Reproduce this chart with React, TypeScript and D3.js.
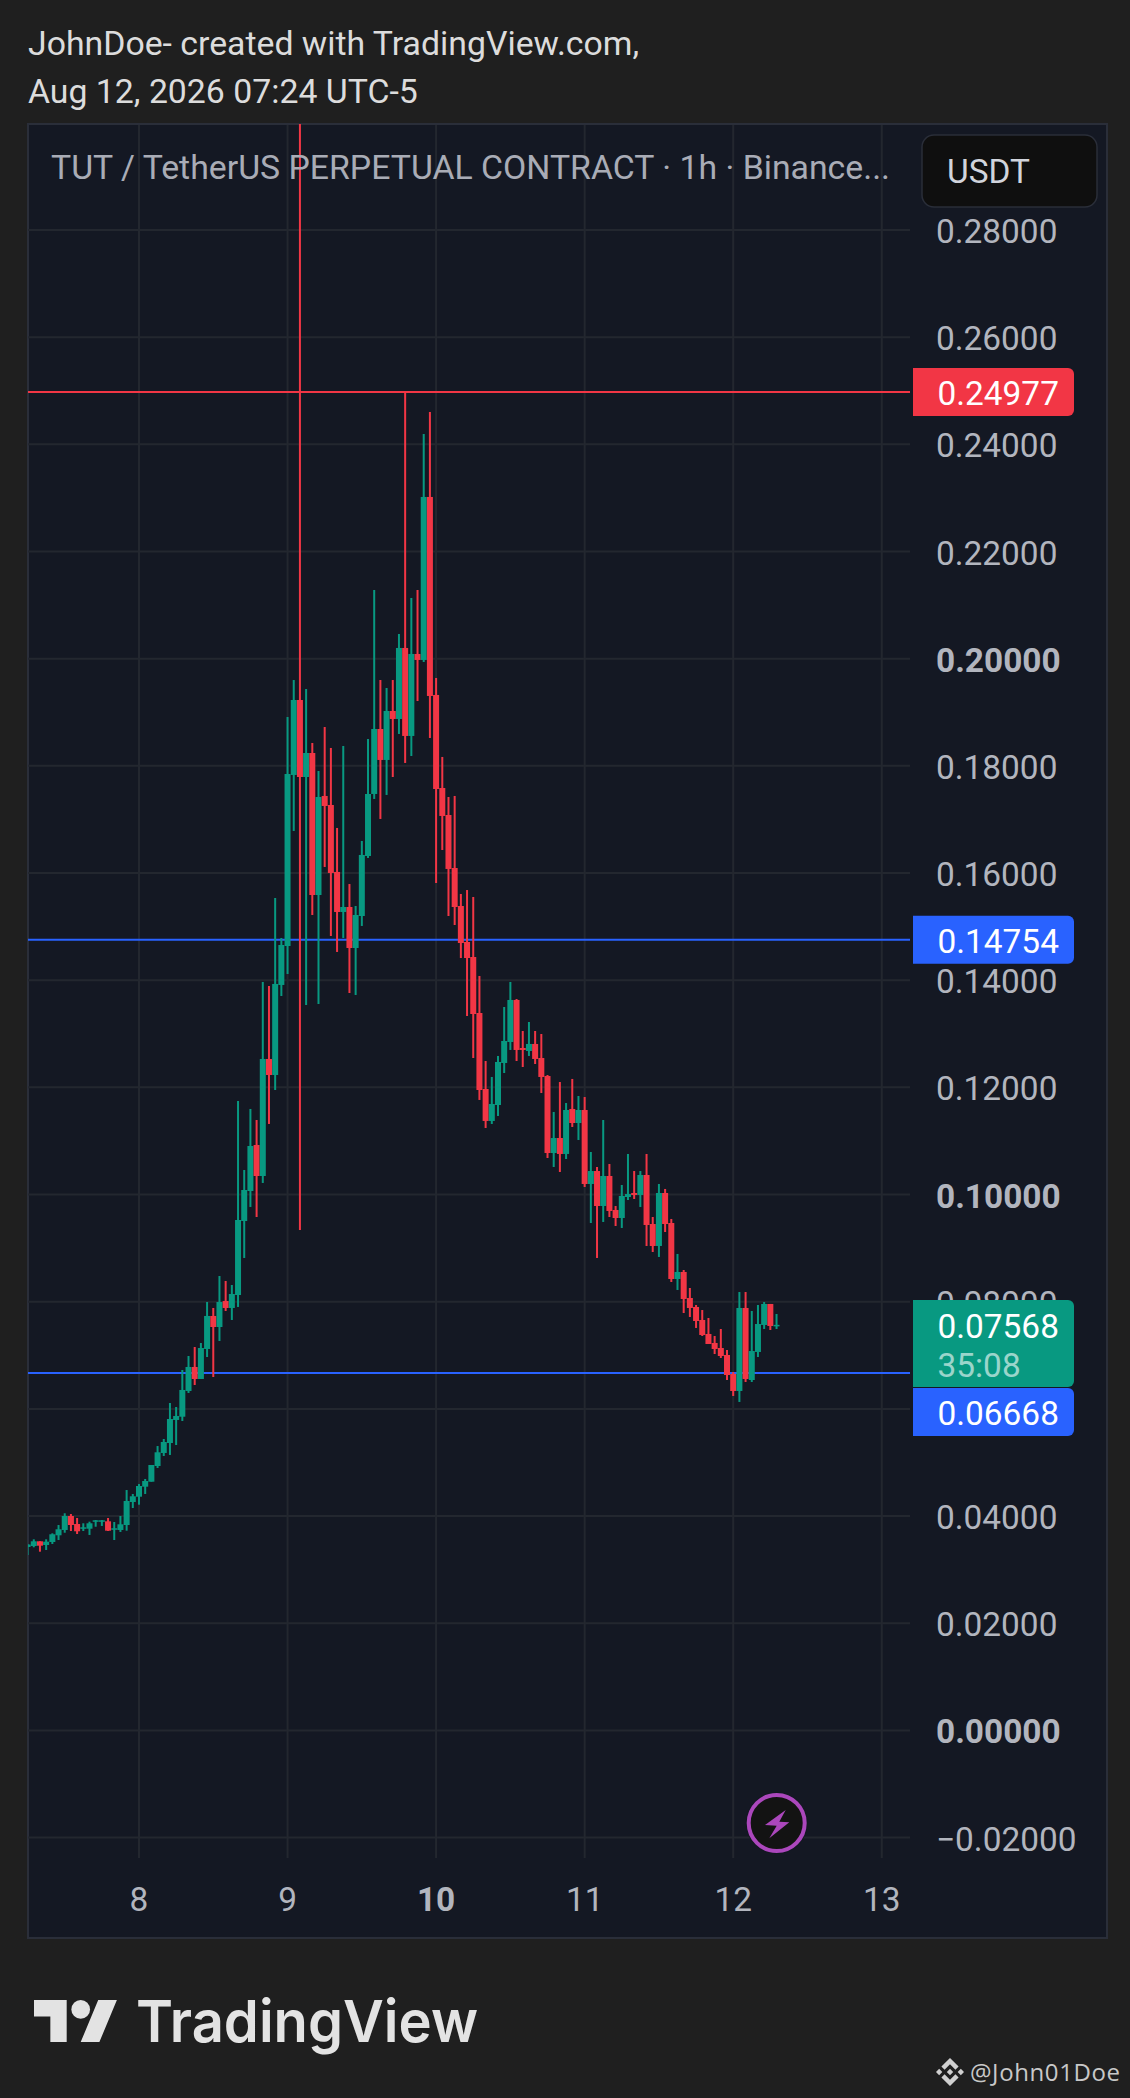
import React from "react";
import * as d3 from "d3";

const firstHour = -18;
const opens = [
  0.03423,0.03441,0.03529,0.0346,0.03516,0.03641,0.0374,0.04001,0.03852,0.03764,0.03764,0.03895,0.03895,0.03902,0.03745,0.0374,0.03833,0.04262,
  0.04361,0.04548,0.04641,0.04934,0.05177,0.05363,0.05793,0.05854,0.06334,0.06782,0.06558,0.07118,0.07734,0.07528,0.08013,0.07883,0.08125,0.09506,0.10066,0.10925,
  0.10346,0.1253,0.12231,0.13911,0.14638,0.1783,0.19229,0.17792,0.1824,0.1559,0.17438,0.1727,0.1602,0.15273,0.15366,0.14601,0.15198,0.16318,0.17475,0.18688,
  0.1811,0.19024,0.18875,0.202,0.18558,0.20088,0.19976,0.23018,0.19323,0.17587,0.17083,0.16094,0.15385,0.14713,0.14433,0.13388,0.1197,0.11373,0.11671,0.12455,
  0.12847,0.13631,0.12735,0.12679,0.1281,0.12548,0.12212,0.10775,0.11055,0.10757,0.11597,0.11335,0.11578,0.10197,0.10439,0.09786,0.10346,0.09712,0.09562,0.09954,
  0.10029,0.09992,0.10365,0.0945,0.0904,0.10029,0.09469,0.08424,0.08555,0.08069,0.07902,0.07659,0.07398,0.0723,0.07136,0.07006,0.06651,0.06334,0.07883,0.06539,
  0.07062,0.07566,0.07958,0.07547,
];
const highs = [
  0.03479,0.03566,0.03529,0.03566,0.03678,0.03833,0.04052,0.04038,0.03964,0.03865,0.03895,0.03926,0.03926,0.03964,0.03889,0.04001,0.04486,0.04412,
  0.04598,0.04692,0.04953,0.05307,0.05438,0.0611,0.06035,0.06726,0.06987,0.07155,0.0723,0.07995,0.07883,0.0848,0.08387,0.08312,0.11746,0.10458,0.11597,0.11391,
  0.13967,0.13892,0.15534,0.14788,0.18912,0.19602,0.33,0.19434,0.18427,0.17904,0.18725,0.18334,0.16841,0.18371,0.15795,0.15385,0.16598,0.18501,0.21282,0.19602,
  0.19453,0.19602,0.20461,0.24977,0.21133,0.21282,0.24193,0.24604,0.1964,0.18166,0.17419,0.17438,0.15609,0.15683,0.15553,0.14079,0.12492,0.12194,0.12586,0.135,
  0.13967,0.13649,0.13052,0.1322,0.13052,0.12996,0.12231,0.11541,0.121,0.11708,0.12157,0.11839,0.1182,0.10794,0.10514,0.11391,0.1057,0.09786,0.10178,0.10757,
  0.10439,0.10439,0.10757,0.09581,0.10197,0.10104,0.09544,0.08891,0.08592,0.08256,0.07939,0.07845,0.07696,0.0736,0.07491,0.07099,0.06688,0.08181,0.08181,0.07827,
  0.07939,0.07995,0.07958,0.07771,
];
const lows = [
  0.03273,0.03417,0.03335,0.03367,0.03479,0.03553,0.03689,0.03721,0.03665,0.03721,0.03647,0.03801,0.03815,0.03721,0.03553,0.03703,0.03727,0.0415,
  0.04212,0.04412,0.04641,0.04897,0.05121,0.0514,0.05326,0.05774,0.06297,0.06446,0.06558,0.06968,0.06595,0.07267,0.07827,0.07659,0.07902,0.08816,0.09768,0.09581,
  0.10216,0.11317,0.11951,0.13705,0.14116,0.16785,0.09338,0.13537,0.15217,0.13556,0.16113,0.14825,0.14527,0.14788,0.13761,0.13724,0.15012,0.16281,0.17382,0.17009,
  0.17457,0.17792,0.18595,0.18054,0.18184,0.1921,0.19938,0.1852,0.15814,0.1643,0.15198,0.1503,0.14414,0.13332,0.12548,0.11765,0.11242,0.11317,0.11466,0.12268,
  0.12698,0.12492,0.1238,0.12586,0.12436,0.11895,0.10682,0.10514,0.10421,0.10663,0.11261,0.11018,0.10141,0.09469,0.08816,0.09488,0.09581,0.09413,0.09376,0.09898,
  0.09917,0.09768,0.0904,0.08928,0.08835,0.09301,0.08368,0.08219,0.07789,0.07715,0.0751,0.0736,0.07211,0.07024,0.0695,0.06539,0.06241,0.06129,0.06502,0.06502,
  0.06968,0.07491,0.07472,0.07491,
];
const closes = [
  0.03469,0.03529,0.03447,0.03522,0.0366,0.03753,0.04001,0.03833,0.03716,0.0379,0.03865,0.03921,0.03921,0.03727,0.03772,0.03846,0.04281,0.04369,
  0.04561,0.04654,0.04953,0.0519,0.05382,0.05811,0.05867,0.06353,0.06782,0.06558,0.07136,0.07734,0.07528,0.07995,0.07883,0.08144,0.09525,0.10085,0.10906,0.10346,
  0.1253,0.12231,0.1393,0.14657,0.17848,0.19229,0.17792,0.1824,0.1559,0.17419,0.17251,0.16001,0.15273,0.15366,0.14601,0.15217,0.16337,0.17475,0.18688,0.1811,
  0.19024,0.18875,0.202,0.18558,0.20088,0.19976,0.23018,0.19304,0.17568,0.17065,0.16076,0.15366,0.14694,0.14414,0.13369,0.11951,0.11373,0.1169,0.12474,0.12866,
  0.13631,0.12698,0.12698,0.1281,0.1253,0.12194,0.10775,0.11055,0.10757,0.11578,0.11335,0.11578,0.10197,0.10439,0.09786,0.10346,0.09693,0.09562,0.09973,0.1001,
  0.09992,0.10365,0.09432,0.0904,0.10029,0.0945,0.08424,0.08555,0.08051,0.07883,0.0764,0.07379,0.07211,0.07118,0.06987,0.06632,0.06334,0.07883,0.06558,0.0708,
  0.07584,0.07958,0.07547,0.07568,
];

const priceTicks = [0.28, 0.26, 0.24, 0.22, 0.2, 0.18, 0.16, 0.14, 0.12, 0.1, 0.08, 0.06, 0.04, 0.02, 0, -0.02];
const priceLabels = ["0.28000","0.26000","0.24000","0.22000","0.20000","0.18000","0.16000","0.14000","0.12000","0.10000","0.08000","","0.04000","0.02000","0.00000","−0.02000"];
const boldPrices = ["0.20000", "0.10000", "0.00000"];
const dayTicks = [8, 9, 10, 11, 12, 13];
const priceLines = [
  { value: 0.24977, color: "#F23645", label: "0.24977" },
  { value: 0.14754, color: "#2962FF", label: "0.14754" },
  { value: 0.06668, color: "#2962FF", label: "0.06668" },
];
const lastPrice = 0.07568;
const lastLabel = "0.07568";
const countdown = "35:08";

const UP = "#089981";
const DOWN = "#F23645";
const FONT = "Roboto, sans-serif";
const AXIS_FS = 33.4;
const DY = "0.39em";

const y = d3.scaleLinear().domain([0, 0.28]).range([1730.4, 230]);
const x = d3.scaleLinear().domain([8, 12]).range([139, 733.2]);
const hx = (h: number) => x(8 + h / 24);

const LAST_TOP = 1300;
const LAST_BOTTOM = 1387;

function Tag({ cy, color, label }: { cy: number; color: string; label: string }) {
  return (
    <g>
      <path d={`M913 ${cy - 24}H1068a6 6 0 0 1 6 6V${cy + 18}a6 6 0 0 1 -6 6H913Z`} fill={color} />
      <text x={937.5} y={cy} dy={DY} fontSize={AXIS_FS} fill="#fff">{label}</text>
    </g>
  );
}

export default function App() {
  const ly = y(lastPrice);
  const tagY = (value: number) => (value < lastPrice ? LAST_BOTTOM + 25 : y(value));
  return (
    <div style={{ position: "absolute", left: 0, top: 0, width: 1130, height: 2098, background: "#1f1f1f" }}>
      <svg width={1130} height={2098} viewBox="0 0 1130 2098" style={{ display: "block" }} fontFamily={FONT}>
        <defs>
          <clipPath id="plot"><rect x={28} y={124} width={882} height={1735} /></clipPath>
        </defs>
        <rect width={1130} height={2098} fill="#1f1f1f" />
        <text x={28} y={55} fontSize={33.8} fill="#dcdcdc">JohnDoe- created with TradingView.com,</text>
        <text x={28} y={103} fontSize={33.8} fill="#dcdcdc">Aug 12, 2026 07:24 UTC-5</text>

        <rect x={28} y={124} width={1079} height={1814} fill="#141823" stroke="#2a2e39" strokeWidth={2} />

        <g stroke="#23272f" strokeWidth={2}>
          {priceTicks.map((p) => <line key={p} x1={28} x2={910} y1={y(p)} y2={y(p)} />)}
          {dayTicks.map((d) => <line key={d} x1={x(d)} x2={x(d)} y1={125} y2={1858} />)}
        </g>

        <g clipPath="url(#plot)">
          {priceLines.map((l) => (
            <line key={l.label} x1={28} x2={911} y1={y(l.value)} y2={y(l.value)} stroke={l.color} strokeWidth={2} />
          ))}
          {opens.map((o, i) => {
            const c = closes[i];
            const cx = hx(firstHour + i);
            const col = c >= o ? UP : DOWN;
            const top = y(Math.max(o, c));
            const bot = y(Math.min(o, c));
            return (
              <g key={i} fill={col}>
                <rect x={cx - 1} width={2} y={y(highs[i])} height={y(lows[i]) - y(highs[i])} />
                <rect x={cx - 3} width={6} y={top} height={Math.max(bot - top, 1.5)} />
              </g>
            );
          })}
        </g>

        <text x={51} y={179} fontSize={33.8} fill="#a9acb6">TUT / TetherUS PERPETUAL CONTRACT · 1h · Binance...</text>

        <g fontSize={AXIS_FS} fill="#b2b5be">
          {priceTicks.map((p, i) => (
            <text key={p} x={936} y={y(p)} dy={DY} fontWeight={boldPrices.includes(priceLabels[i]) ? 700 : 400}>{priceLabels[i]}</text>
          ))}
          {dayTicks.map((d) => (
            <text key={d} x={x(d)} y={1898} dy={DY} textAnchor="middle" fontWeight={d === 10 ? 700 : 400}>{d}</text>
          ))}
        </g>

        <rect x={922} y={135} width={175} height={72} rx={12} fill="#0f0f0f" stroke="#2a2e39" strokeWidth={1.5} />
        <text x={947} y={170} dy={DY} fontSize={AXIS_FS} fill="#d1d4dc">USDT</text>

        {priceLines.filter((l) => l.value > lastPrice).map((l) => <Tag key={l.label} cy={tagY(l.value)} color={l.color} label={l.label} />)}

        <path d={`M913 ${LAST_TOP}H1068a6 6 0 0 1 6 6V${LAST_BOTTOM - 6}a6 6 0 0 1 -6 6H913Z`} fill={UP} />
        <text x={937.5} y={ly} dy={DY} fontSize={AXIS_FS} fill="#fff">{lastLabel}</text>
        <text x={937.5} y={ly + 39} dy={DY} fontSize={AXIS_FS} fill="#fff" fillOpacity={0.6}>{countdown}</text>

        {priceLines.filter((l) => l.value < lastPrice).map((l) => <Tag key={l.label} cy={tagY(l.value)} color={l.color} label={l.label} />)}

        <g>
          <circle cx={776.7} cy={1823} r={31} fill="#131722" />
          <circle cx={776.7} cy={1823} r={28} fill="#131313" stroke="#AB47BC" strokeWidth={4} />
          <path d="M785.7 1810L765 1825L776.7 1825.7L769.3 1838.3L789.3 1822.3L779.3 1821.7Z" fill="#AB47BC" />
        </g>

        <path transform="translate(34 1990.7) scale(2.335)" d="M14 22H7V11H0V4h14v18zM28 22h-8l7.5-18h8L28 22z" fill="#e3e3e3" />
        <circle cx={34 + 20 * 2.335} cy={1990.7 + 8 * 2.335} r={4 * 2.335} fill="#e3e3e3" />
        <text x={136} y={2042} fontFamily="Inter, sans-serif" fontWeight={600} fontSize={58} textLength={342} lengthAdjust="spacingAndGlyphs" fill="#e3e3e3">TradingView</text>

        <path transform="translate(936 2058) scale(0.2211)" fill="#d0d0d0" d="M38.73 53.2l24.59-24.58 24.6 24.6 14.3-14.31L63.32 0 24.43 38.9 38.73 53.2z M0 63.31l14.3-14.31 14.31 14.31-14.31 14.3z M38.73 73.41l24.59 24.59 24.6-24.6 14.31 14.29-38.9 38.91-38.91-38.88v-.03z M98 63.31l14.3-14.31 14.31 14.3-14.31 14.32z M77.83 63.3L63.32 48.78 52.59 59.51l-1.24 1.23-2.54 2.54 14.51 14.5 14.51-14.47z" />
        <text x={970} y={2081} fontFamily="'Open Sans', sans-serif" fontSize={24} letterSpacing={0.6} fill="#c8c8c8">@John01Doe</text>
      </svg>
    </div>
  );
}
